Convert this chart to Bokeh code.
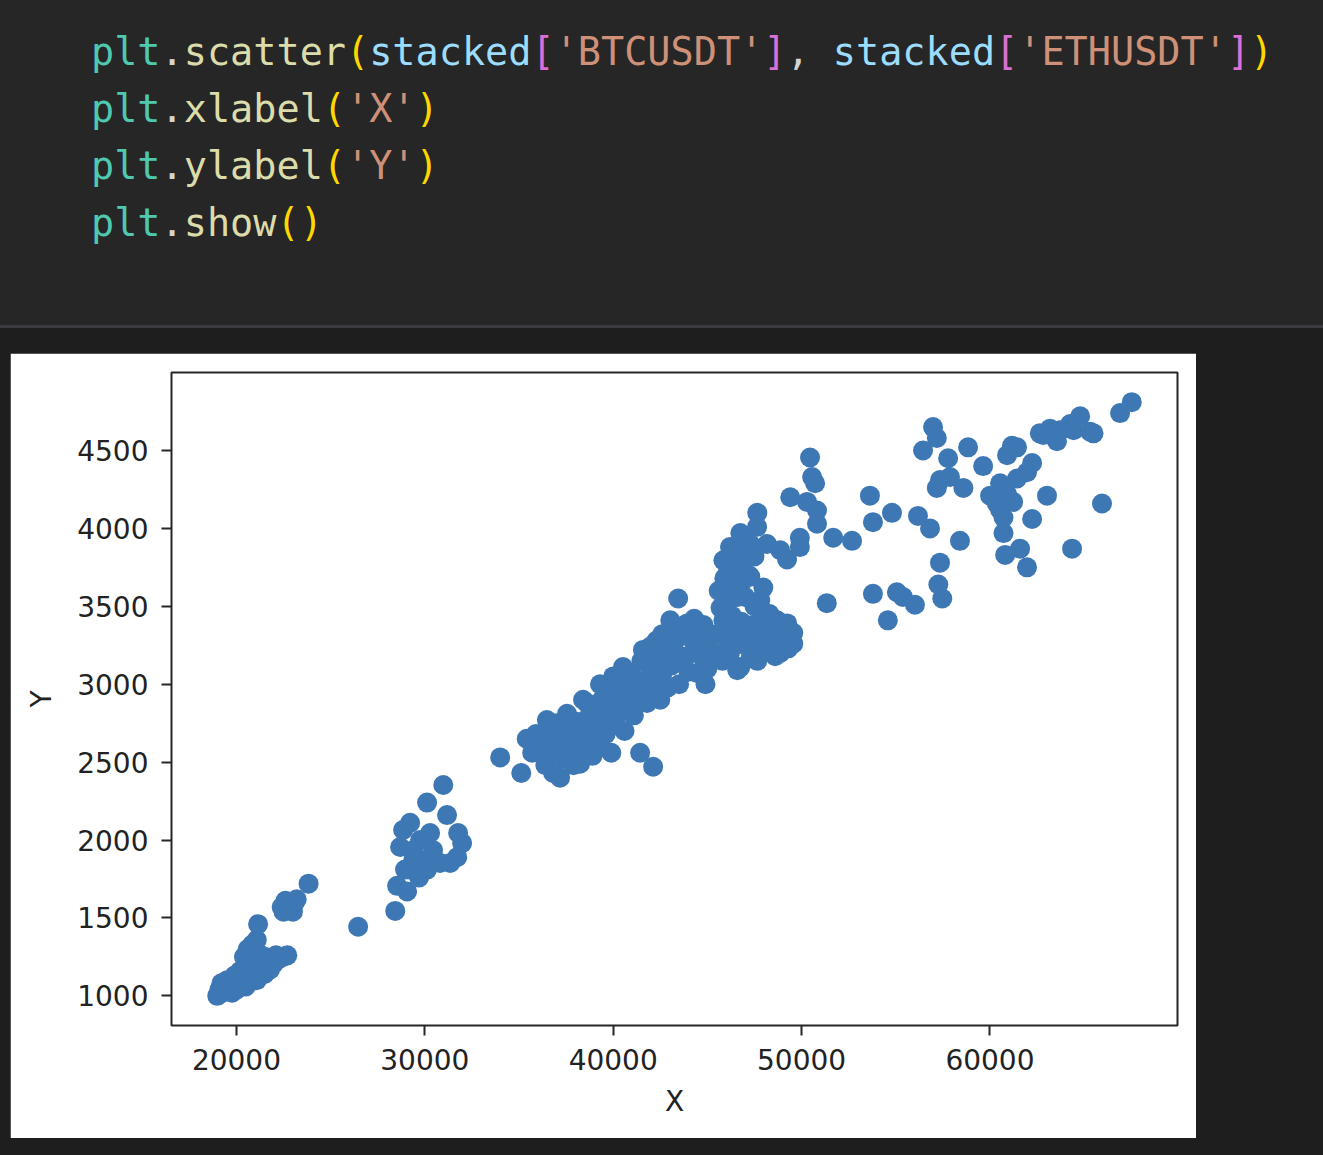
from bokeh.plotting import figure
from bokeh.models import Div, Range1d, FixedTicker
from bokeh.layouts import column
from bokeh.embed import file_html
from bokeh.resources import INLINE

# ---------------- data ----------------
# cluster around BTC 19k-24k
btc_a = [18980, 19100, 19250, 19400, 19550, 19700, 19850, 20000, 20150, 20300,
         20450, 20600, 20750, 20900, 21050, 20600, 20850, 21080, 21150, 21300,
         21500, 21800, 22100, 22300, 22480, 20300, 19800, 22400, 22500, 22600,
         22800, 23000, 23100, 23200, 23830,
         19200, 19500, 19900, 20200, 20500, 20900, 21200, 21600, 22000, 22700,
         20400, 20700,
         19770, 20500, 21080, 21500, 21790, 20000]
eth_a = [1000, 1040, 1020, 1070, 1050, 1090, 1070, 1110, 1090, 1140,
         1120, 1180, 1200, 1230, 1260, 1300, 1330, 1360, 1460, 1220,
         1250, 1230, 1260, 1240, 1250, 1160, 1100, 1570, 1540, 1610,
         1560, 1540, 1600, 1620, 1720,
         1080, 1100, 1130, 1160, 1220, 1200, 1270, 1190, 1210, 1260,
         1250, 1280,
         1020, 1060, 1100, 1140, 1170, 1040]
# isolated points
btc_iso = [26460, 28430]
eth_iso = [1443, 1545]
# cluster around BTC 28k-32k
btc_b = [28530, 29060, 28950, 29220, 30120, 30810, 31350, 31720, 31980, 31770,
         31180, 30120, 30980, 29220, 28850, 28690, 29380, 30280, 29750, 30440,
         30120, 29380, 29700]
eth_b = [1706, 1670, 1810, 1810, 1810, 1853, 1853, 1890, 1980, 2045,
         2160, 2240, 2353, 2110, 2065, 1955, 1935, 2045, 2000, 1935,
         1870, 1870, 1760]
# dense band BTC 34k-45.5k
btc_c = [34000, 35120, 35410, 35700, 35900, 36120, 36300, 36480, 36400, 36700,
         36810, 36900, 37000, 37180, 37200, 37400, 37550, 37600, 37700, 37900,
         38000, 38100, 38240, 38400, 38400, 38500, 38600, 38700, 38800, 38900,
         39000, 39100, 39300, 39300, 39400, 39500, 39600, 39800, 39900, 39900,
         40000, 40100, 40300, 40400, 40520, 40600, 40700, 40800, 41000, 41100,
         41300, 41430, 41500, 41580, 41700, 41800, 41960, 42000, 42120, 42200,
         42400, 42500, 42600, 42800, 42900, 43030, 43100, 43300, 43450, 43500,
         43600, 43800, 43920, 44000, 44080, 44200, 44470, 44500, 44700, 44900,
         45000, 45000, 45320, 45500,
         42300, 42600, 43300, 44300, 44800]
eth_c = [2530, 2430, 2650, 2560, 2680, 2560, 2620, 2770, 2480, 2690,
         2430, 2560, 2750, 2400, 2630, 2520, 2810, 2700, 2590, 2480,
         2760, 2640, 2490, 2900, 2720, 2580, 2880, 2790, 2660, 2540,
         2850, 2720, 3000, 2620, 2900, 2780, 2680, 2950, 2560, 2840,
         3050, 2740, 2920, 2820, 3110, 2700, 3000, 2880, 3060, 2800,
         2950, 2560, 3150, 3220, 3020, 2880, 3240, 3100, 2470, 2960,
         3180, 2900, 3060, 3220, 2980, 3410, 3120, 3280, 3550, 3000,
         3180, 3350, 3390, 3080, 3300, 3200, 3070, 3300, 3180, 3000,
         3280, 3100, 3200, 3320,
         3280, 3320, 3360, 3420, 3380]
# BTC 45.5k-53k
btc_d = [45600, 45700, 45850, 45850, 45900, 46060, 46060, 46100, 46200, 46300,
         46380, 46500, 46590, 46600, 46600, 46750, 46750, 46800, 46800, 46900,
         47000, 47120, 47200, 47200, 47280, 47280, 47300, 47500, 47640, 47650,
         47650, 47800, 47810, 47810, 47970, 48170, 48300, 48300, 48700, 48870,
         48870, 49000, 49230, 49240, 49400, 49560, 49560, 49910, 49910, 50290,
         50450, 50560, 50720, 50820, 50820, 51340, 51680, 52680, 47500, 48000,
         45800, 46200, 46500, 47000, 47400, 47900, 48200, 48500, 48900, 49300,
         46300, 47600, 48600]
eth_d = [3600, 3490, 3410, 3795, 3680, 3520, 3280, 3730, 3880, 3600,
         3840, 3780, 3090, 3560, 3710, 3970, 3110, 3400, 3650, 3880,
         3560, 3810, 3300, 3700, 3690, 3900, 3170, 3820, 4010, 4100,
         3150, 3400, 3540, 3200, 3620, 3900, 3220, 3450, 3410, 3860,
         3200, 3240, 3800, 3390, 4200, 3330, 3260, 3940, 3880, 4170,
         4455, 4330, 4290, 4115, 4030, 3520, 3940, 3920, 3500, 3300,
         3150, 3200, 3350, 3250, 3380, 3280, 3340, 3300, 3330, 3230,
         3440, 3250, 3180]
# BTC 53k-68k
btc_e = [53630, 53790, 54800, 56180, 56820, 53790, 55060, 55380, 56020, 54580,
         57260, 57470, 57350, 58410, 56980, 57180, 56450, 58840, 57780, 59640,
         61170, 61440, 60910, 62240, 61970, 61440, 57350, 57880, 58590, 57180,
         60540, 60010, 60370, 60910, 61230, 60540, 60720, 63030, 62240, 60720,
         65950, 60810, 61600, 61970, 64360, 67530, 66910, 64790, 65320, 64260,
         63560, 62830, 63190, 64440, 65500, 63720, 62650]
eth_e = [4210, 4040, 4100, 4080, 4000, 3580, 3590, 3560, 3510, 3410,
         3640, 3550, 3780, 3920, 4650, 4580, 4500, 4520, 4450, 4400,
         4530, 4520, 4470, 4420, 4360, 4320, 4310, 4330, 4260, 4260,
         4290, 4210, 4160, 4220, 4170, 4120, 4070, 4210, 4060, 3970,
         4160, 3830, 3870, 3750, 3870, 4810, 4740, 4720, 4620, 4670,
         4560, 4600, 4640, 4630, 4610, 4630, 4610]

x_ticks = [20000, 30000, 40000, 50000, 60000]
y_ticks = [1000, 1500, 2000, 2500, 3000, 3500, 4000, 4500]
x_label = "X"
y_label = "Y"

btc_usdt = btc_a + btc_iso + btc_b + btc_c + btc_d + btc_e
eth_usdt = eth_a + eth_iso + eth_b + eth_c + eth_d + eth_e

# ---------------- code cell (notebook screenshot header) ----------------
C_MOD = "#4ec9b0"; C_DOT = "#d4d4d4"; C_FN = "#dcdcaa"; C_PAR = "#ffd700"
C_VAR = "#9cdcfe"; C_BRK = "#da70d6"; C_STR = "#ce9178"

def s(t, c):
    return f'<span style="color:{c}">{t}</span>'

line1 = (s("plt", C_MOD) + s(".", C_DOT) + s("scatter", C_FN) + s("(", C_PAR) +
         s("stacked", C_VAR) + s("[", C_BRK) + s("'BTCUSDT'", C_STR) + s("]", C_BRK) +
         s(", ", C_DOT) + s("stacked", C_VAR) + s("[", C_BRK) + s("'ETHUSDT'", C_STR) +
         s("]", C_BRK) + s(")", C_PAR))
line2 = s("plt", C_MOD) + s(".", C_DOT) + s("xlabel", C_FN) + s("(", C_PAR) + s("'X'", C_STR) + s(")", C_PAR)
line3 = s("plt", C_MOD) + s(".", C_DOT) + s("ylabel", C_FN) + s("(", C_PAR) + s("'Y'", C_STR) + s(")", C_PAR)
line4 = s("plt", C_MOD) + s(".", C_DOT) + s("show", C_FN) + s("(", C_PAR) + s(")", C_PAR)

code_html = ('<pre style="margin:0;padding:23px 0 0 91px;font-family:\'DejaVu Sans Mono\',monospace;'
             'font-size:38.5px;line-height:57px;color:#d4d4d4;background:#262626;">'
             + "\n".join([line1, line2, line3, line4]) + "</pre>")

code_div = Div(text=code_html, width=1323, height=325, margin=0,
               styles={"background-color": "#262626", "overflow": "hidden"})
sep_div = Div(text="", width=1323, height=3, margin=0,
              styles={"background-color": "#3b3b41"})

# ---------------- scatter plot ----------------
xmin, xmax = min(btc_usdt), max(btc_usdt)
ymin, ymax = min(eth_usdt), max(eth_usdt)
xpad = 0.05 * (xmax - xmin)
ypad = 0.05 * (ymax - ymin)

p = figure(width=1186, height=785, output_backend="svg", toolbar_location=None,
           x_range=Range1d(xmin - xpad, xmax + xpad),
           y_range=Range1d(ymin - ypad, ymax + ypad),
           min_border_left=161, min_border_right=19, min_border_top=19, min_border_bottom=113,
           margin=(25, 0, 0, 10),
           background_fill_color="white", border_fill_color="white",
           outline_line_color="#262626", outline_line_width=2)
p.grid.visible = False

p.scatter(btc_usdt, eth_usdt, size=20, fill_color="#3d78b4", line_color=None)

p.xaxis.ticker = FixedTicker(ticks=x_ticks)
p.yaxis.ticker = FixedTicker(ticks=y_ticks)
p.xaxis.axis_label = x_label
p.yaxis.axis_label = y_label

for ax in (p.xaxis[0], p.yaxis[0]):
    ax.axis_line_color = None
    ax.major_tick_in = 0
    ax.major_tick_out = 10
    ax.major_tick_line_width = 2
    ax.major_tick_line_color = "#262626"
    ax.minor_tick_line_color = None
    ax.major_label_text_font = "DejaVu Sans"
    ax.major_label_text_font_size = "28px"
    ax.major_label_text_color = "#222222"
    ax.axis_label_text_font = "DejaVu Sans"
    ax.axis_label_text_font_size = "28px"
    ax.axis_label_text_font_style = "normal"
    ax.axis_label_text_color = "#222222"

p.xaxis.major_label_standoff = 13
p.xaxis.axis_label_standoff = 12
p.yaxis.major_label_standoff = 13
p.yaxis.axis_label_standoff = 16

layout = column(code_div, sep_div, p, spacing=0)

tpl = """{% block postamble %}<style>html,body{margin:0;padding:0;background:#1e1e1e;overflow:hidden;}</style>{% endblock %}"""

open("out.html", "w").write(file_html(layout, INLINE, template=tpl))
